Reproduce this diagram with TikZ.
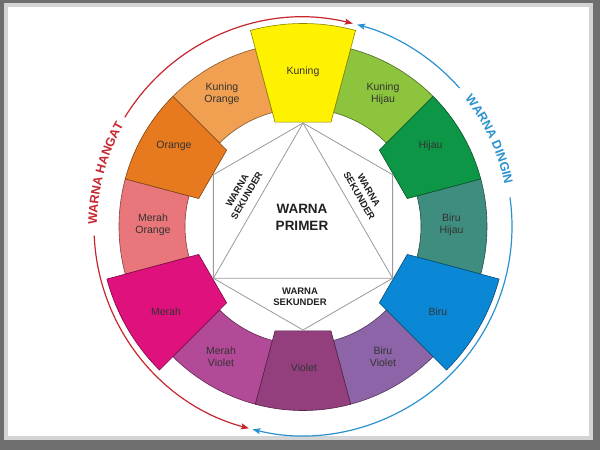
\documentclass[tikz,border=0pt]{standalone}
\usepackage{fontspec}
\setmainfont{Liberation Sans}
\usetikzlibrary{arrows.meta, decorations.text}
\definecolor{framegray}{HTML}{6E6E6E}
\definecolor{framelight}{HTML}{D4D4D4}
\definecolor{hexgray}{HTML}{9A9A9A}
\definecolor{ink}{HTML}{231F20}
\definecolor{hangat}{HTML}{C8262E}
\definecolor{dingin}{HTML}{2B92D0}
\definecolor{kuning}{HTML}{FFF200}
\definecolor{kuninghijau}{HTML}{8CC43E}
\definecolor{hijau}{HTML}{0E9647}
\definecolor{biruhijau}{HTML}{3F8D7E}
\definecolor{biru}{HTML}{0A88D6}
\definecolor{biruungu}{HTML}{8E64A8}
\definecolor{ungu}{HTML}{933F7E}
\definecolor{merahungu}{HTML}{B24A97}
\definecolor{merah}{HTML}{DF117D}
\definecolor{merahoranye}{HTML}{E9767A}
\definecolor{oranye}{HTML}{E77A1F}
\definecolor{kuningoranye}{HTML}{F0A050}

\begin{document}
\begin{tikzpicture}[x=1pt, y=1pt, >={Stealth[length=8pt, width=6pt, inset=1.5pt]},
  seg/.style={line width=0.6pt},
  seglabel/.style={text=black!80, font=\fontsize{10.5}{12}\selectfont, align=center, inner sep=0pt},
  seklabel/.style={text=ink, font=\bfseries\fontsize{9.5}{11}\selectfont, align=center, inner sep=0pt},
  hexline/.style={draw=hexgray, line width=0.8pt},
  warmarc/.style={hangat, line width=1.2pt, ->},
  coolarc/.style={dingin, line width=1.2pt, ->}]

% Frame
\fill[framegray] (-303,-223.5) rectangle (297,226.5);
\fill[framelight] (-299,-213.5) rectangle (290,223.5);
\fill[white] (-295,-209.5) rectangle (286,219.5);
\useasboundingbox (-303,-223.5) rectangle (297,226.5);

% Tertiary ring
\filldraw[fill=kuningoranye, draw=kuningoranye!55!black, seg] (105:118) -- (105:184) arc[start angle=105, end angle=135, radius=184] -- (135:118) arc[start angle=135, end angle=105, radius=118] -- cycle;
\filldraw[fill=merahoranye, draw=merahoranye!55!black, seg] (165:118) -- (165:184) arc[start angle=165, end angle=195, radius=184] -- (195:118) arc[start angle=195, end angle=165, radius=118] -- cycle;
\filldraw[fill=merahungu, draw=merahungu!55!black, seg] (225:118) -- (225:184) arc[start angle=225, end angle=255, radius=184] -- (255:118) arc[start angle=255, end angle=225, radius=118] -- cycle;
\filldraw[fill=biruungu, draw=biruungu!55!black, seg] (285:118) -- (285:184) arc[start angle=285, end angle=315, radius=184] -- (315:118) arc[start angle=315, end angle=285, radius=118] -- cycle;
\filldraw[fill=biruhijau, draw=biruhijau!55!black, seg] (-15:118) -- (-15:184) arc[start angle=-15, end angle=15, radius=184] -- (15:118) arc[start angle=15, end angle=-15, radius=118] -- cycle;
\filldraw[fill=kuninghijau, draw=kuninghijau!55!black, seg] (45:118) -- (45:184) arc[start angle=45, end angle=75, radius=184] -- (75:118) arc[start angle=75, end angle=45, radius=118] -- cycle;

% Secondary colours
\filldraw[fill=oranye, draw=oranye!55!black, seg] (135:108) -- (135:184) arc[start angle=135, end angle=165, radius=184] -- (165:108) -- cycle;
\filldraw[fill=ungu, draw=ungu!55!black, seg] (255:108) -- (255:184) arc[start angle=255, end angle=285, radius=184] -- (285:108) -- cycle;
\filldraw[fill=hijau, draw=hijau!55!black, seg] (15:108) -- (15:184) arc[start angle=15, end angle=45, radius=184] -- (45:108) -- cycle;

% Primary colours
\filldraw[fill=kuning, draw=kuning!55!black, seg] (75:108) -- (75:203) arc[start angle=75, end angle=105, radius=203] -- (105:108) -- cycle;
\filldraw[fill=merah, draw=merah!55!black, seg] (195:108) -- (195:203) arc[start angle=195, end angle=225, radius=203] -- (225:108) -- cycle;
\filldraw[fill=biru, draw=biru!55!black, seg] (315:108) -- (315:203) arc[start angle=315, end angle=345, radius=203] -- (345:108) -- cycle;

% Hexagon and triangle
\coordinate (h1) at (90:103.5);
\coordinate (h2) at (150:103.5);
\coordinate (h3) at (210:103.5);
\coordinate (h4) at (270:103.5);
\coordinate (h5) at (330:103.5);
\coordinate (h6) at (30:103.5);
\draw[hexline] (h1) -- (h2) -- (h3) -- (h4) -- (h5) -- (h6) -- cycle;
\draw[hexline] (h1) -- (h3) -- (h5) -- cycle;

% Segment labels
\node[seglabel] (kuningL) at (0,154.5) {Kuning};
\node[seglabel] (kuningoranyeL) at (-81,132.5) {Kuning\\Orange};
\node[seglabel] (oranyeL) at (-129,80.5) {Orange};
\node[seglabel] (merahoranyeL) at (-150,1.5) {Merah\\Orange};
\node[seglabel] (merahL) at (-137,-85.5) {Merah};
\node[seglabel] (merahunguL) at (-82,-130.5) {Merah\\Violet};
\node[seglabel] (unguL) at (1,-141.5) {Violet};
\node[seglabel] (biruunguL) at (80,-130.5) {Biru\\Violet};
\node[seglabel] (biruL) at (135,-85.5) {Biru};
\node[seglabel] (biruhijauL) at (148.5,1.5) {Biru\\Hijau};
\node[seglabel] (hijauL) at (127.5,80.5) {Hijau};
\node[seglabel] (kuninghijauL) at (80,132.5) {Kuning\\Hijau};

% Inner labels
\node[text=ink, font=\bfseries\fontsize{13.5}{17}\selectfont, align=center, inner sep=0pt] (primer) at (-1,9.5) {WARNA\\PRIMER};
\node[seklabel, rotate=60] (sekkiri) at (-61,33.5) {WARNA\\SEKUNDER};
\node[seklabel, rotate=-60] (sekkanan) at (61,33.5) {WARNA\\SEKUNDER};
\node[seklabel] (sekbawah) at (-3,-70.5) {WARNA\\SEKUNDER};

% Warm and cool arcs
\draw[warmarc] (148.5:209) arc[start angle=148.5, end angle=76.2, radius=209];
\draw[warmarc] (182.5:209) arc[start angle=182.5, end angle=255, radius=209];
\draw[coolarc] (41.5:209) arc[start angle=41.5, end angle=75, radius=209];
\draw[coolarc] (8:209) arc[start angle=8, end angle=-104, radius=209];

\path[decorate, decoration={text along path, text align=center,
  text={|\color{hangat}\bfseries\fontsize{12.5}{12.5}\selectfont|WARNA HANGAT}}]
  (182:206) arc[start angle=182, end angle=148, radius=206];
\path[decorate, decoration={text along path, text align=center,
  text={|\color{dingin}\bfseries\fontsize{12.5}{12.5}\selectfont|WARNA DINGIN}}]
  (43:206) arc[start angle=43, end angle=7, radius=206];

\end{tikzpicture}
\end{document}
